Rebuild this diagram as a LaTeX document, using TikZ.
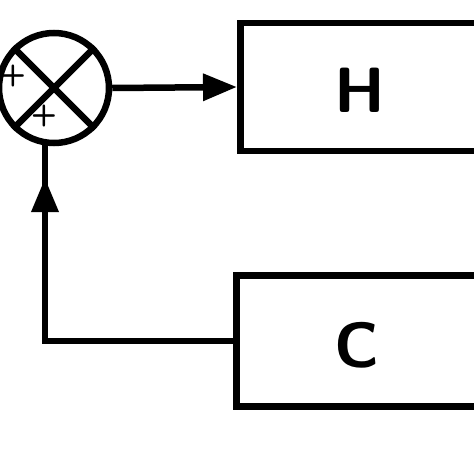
\documentclass[tikz,border=0pt]{standalone}
\usetikzlibrary{arrows.meta}
\begin{document}
\begin{tikzpicture}[x=1pt,y=-1pt,line width=6.5pt,
  blk/.style={draw,rectangle,inner sep=0pt},
  lbl/.style={font=\sffamily\bfseries\fontsize{64}{64}\selectfont},
  pls/.style={font=\sffamily\bfseries\fontsize{30}{30}\selectfont},
  tip/.style={-{Triangle[length=34pt,width=26pt]}}]
\useasboundingbox (0,0) rectangle (474,474);
\clip (0,0) rectangle (474,474);
\fill[white] (0,0) rectangle (474,474);
\node[draw,circle,minimum size=110pt,inner sep=0pt] (s) at (54,88) {};
\draw (s.north west) -- (s.south east);
\draw (s.north east) -- (s.south west);
\node[pls] (p1) at (13,76) {+};
\node[pls] (p2) at (44,116) {+};
\node[blk,minimum width=270pt,minimum height=128pt,anchor=west] (h) at (237,87) {};
\node[lbl] (ht) at (360,90) {H};
\node[blk,minimum width=270pt,minimum height=131pt,anchor=west] (c) at (233,341) {};
\node[lbl] (ct) at (357,345) {C};
\draw[tip] (s.east) -- (h.west);
\coordinate (k) at (45,341);
\coordinate (m) at (45,178);
\coordinate (n) at (45,215);
\draw (c.west) -- (k) -- (45,140);
\draw[tip] (n) -- (m);
\end{tikzpicture}
\end{document}
